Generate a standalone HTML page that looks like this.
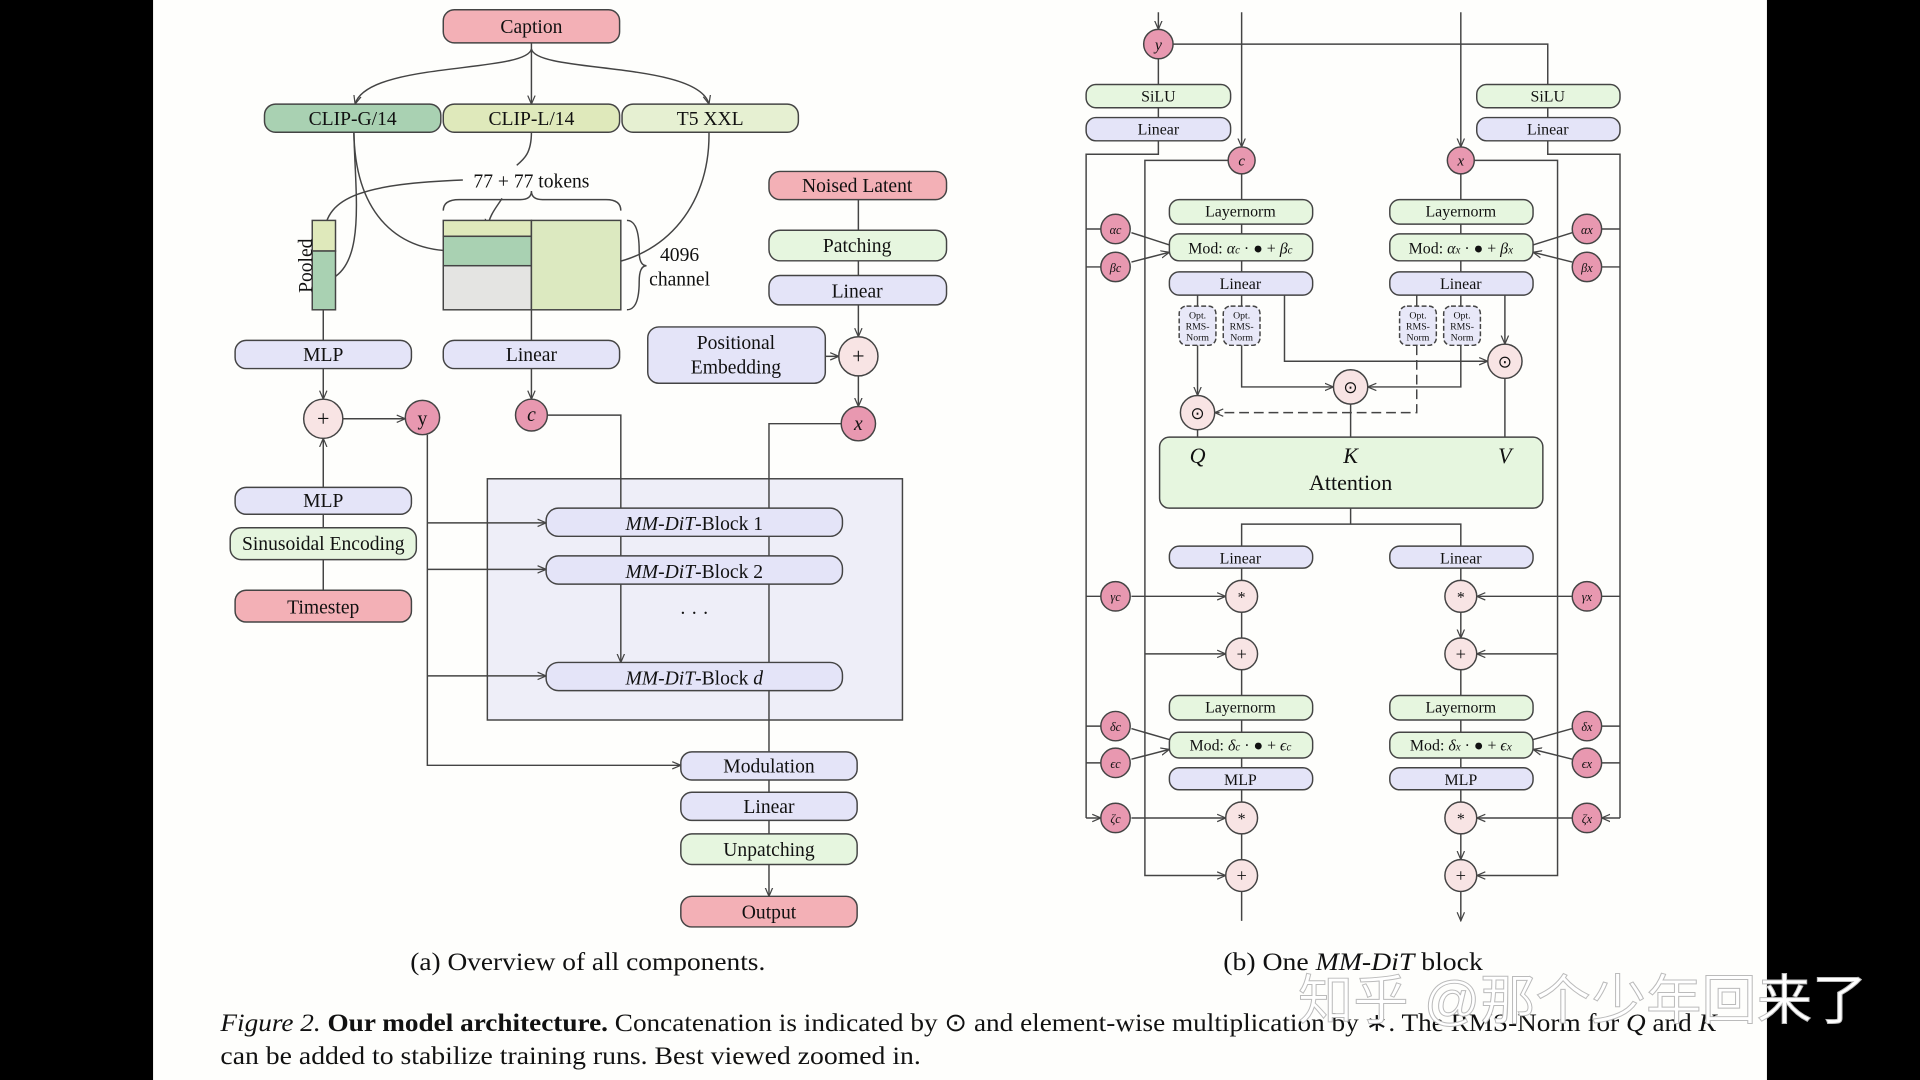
<!DOCTYPE html>
<html><head><meta charset="utf-8"><style>
html,body{margin:0;padding:0;background:#000;}
svg{display:block;}
text{font-family:"Liberation Serif",serif;fill:#111;}
</style></head><body>
<svg width="1920" height="1080" viewBox="0 0 1568 882" preserveAspectRatio="none" xmlns="http://www.w3.org/2000/svg">
<defs>
<marker id="a" markerWidth="8" markerHeight="8" refX="7" refY="4" orient="auto" markerUnits="userSpaceOnUse"><path d="M0,1 L7,4 L0,7" fill="none" stroke="#444" stroke-width="1"/></marker>
</defs>
<rect x="0" y="0" width="1568" height="882" fill="#000"/>
<rect x="125" y="0" width="1318" height="882" fill="#fefefc"/>
<rect x="398" y="391" width="339" height="197" fill="#eeeef8" stroke="#444" stroke-width="1.2"/>
<g stroke="#444" stroke-width="1.2" fill="none">
<path d="M434,35 V85" marker-end="url(#a)"/>
<path d="M434,40 C430,60 300,50 290,85" marker-end="url(#a)"/>
<path d="M434,40 C438,60 570,50 579,85" marker-end="url(#a)"/>
<path d="M289,108 C290,160 300,220 265,230" marker-end="url(#a)"/>
<path d="M289,108 C290,170 320,205 372,205" marker-end="url(#a)"/>
<path d="M579,108 C580,170 540,215 482,217" marker-end="url(#a)"/>
<path d="M434,108 C434,125 428,130 422,135"/>
<path d="M378,147 C300,150 265,160 265,192" marker-end="url(#a)"/>
<path d="M410,162 C405,170 400,175 398,186" marker-end="url(#a)"/>
<path d="M362,172 Q362,163 375,163 L425,163 Q434,163 434,156 Q434,163 443,163 L495,163 Q507,163 507,172"/>
<path d="M512,180 Q522,180 522,205 Q522,217 528,217 Q522,217 522,230 Q522,253 512,253"/>
<path d="M264,253 V278"/>
<path d="M264,301 V326" marker-end="url(#a)"/>
<path d="M264,398 V358" marker-end="url(#a)"/>
<path d="M264,420 V431 M264,457 V482"/>
<path d="M280,342 H331" marker-end="url(#a)"/>
<path d="M434,253 V278 M434,301 V326" marker-end="url(#a)"/>
<path d="M701,163 V188 M701,213 V225"/>
<path d="M701,249 V275" marker-end="url(#a)"/>
<path d="M674,291 H685" marker-end="url(#a)"/>
<path d="M701,307 V332" marker-end="url(#a)"/>
<path d="M447,339 H507 V541" marker-end="url(#a)"/>
<path d="M687,346 H628 V614"/>
<path d="M349,355 V625 H556" marker-end="url(#a)"/>
<path d="M349,427 H446" marker-end="url(#a)"/>
<path d="M349,465 H446" marker-end="url(#a)"/>
<path d="M349,552 H446" marker-end="url(#a)"/>
<path d="M628,637 V647 M628,670 V681"/>
<path d="M628,706 V732" marker-end="url(#a)"/>
</g>
<g stroke="#444" stroke-width="1.2">
<rect x="362" y="8" width="144" height="27" rx="9" fill="#f3b0b6"/>
<rect x="216" y="85" width="144" height="23" rx="9" fill="#a9d1b2"/>
<rect x="362" y="85" width="144" height="23" rx="9" fill="#dfe9bb"/>
<rect x="508" y="85" width="144" height="23" rx="9" fill="#e6f0d2"/>
<rect x="255" y="180" width="19" height="25" fill="#dfe9bb"/>
<rect x="255" y="205" width="19" height="48" fill="#a9d1b2"/>
<rect x="362" y="180" width="72" height="13" fill="#dfe9bb"/>
<rect x="362" y="193" width="72" height="24" fill="#a9d1b2"/>
<rect x="362" y="217" width="72" height="36" fill="#e4e4e2"/>
<rect x="434" y="180" width="73" height="73" fill="#dce9c0"/>
<rect x="628" y="140" width="145" height="23" rx="9" fill="#f3b0b6"/>
<rect x="628" y="188" width="145" height="25" rx="9" fill="#e6f6df"/>
<rect x="628" y="225" width="145" height="24" rx="9" fill="#e4e4f8"/>
<rect x="529" y="267" width="145" height="46" rx="9" fill="#e4e4f8"/>
<rect x="192" y="278" width="144" height="23" rx="9" fill="#e4e4f8"/>
<rect x="362" y="278" width="144" height="23" rx="9" fill="#e4e4f8"/>
<rect x="192" y="398" width="144" height="22" rx="9" fill="#e4e4f8"/>
<rect x="188" y="431" width="152" height="26" rx="9" fill="#e6f6df"/>
<rect x="192" y="482" width="144" height="26" rx="9" fill="#f3b0b6"/>
<rect x="446" y="415" width="242" height="23" rx="10" fill="#e4e4f8"/>
<rect x="446" y="454" width="242" height="23" rx="10" fill="#e4e4f8"/>
<rect x="446" y="541" width="242" height="23" rx="10" fill="#e4e4f8"/>
<rect x="556" y="614" width="144" height="23" rx="9" fill="#e4e4f8"/>
<rect x="556" y="647" width="144" height="23" rx="9" fill="#e4e4f8"/>
<rect x="556" y="681" width="144" height="25" rx="9" fill="#e6f6df"/>
<rect x="556" y="732" width="144" height="25" rx="9" fill="#f3b0b6"/>
<circle cx="701" cy="291" r="16" fill="#f8e4e4"/>
<circle cx="264" cy="342" r="16" fill="#f8e4e4"/>
<circle cx="345" cy="341" r="14" fill="#e898b0"/>
<circle cx="434" cy="339" r="13" fill="#e898b0"/>
<circle cx="701" cy="346" r="14" fill="#e898b0"/>
</g>
<g font-size="16" text-anchor="middle">
<text x="434" y="27">Caption</text>
<text x="288" y="102">CLIP-G/14</text>
<text x="434" y="102">CLIP-L/14</text>
<text x="580" y="102">T5 XXL</text>
<text x="434" y="153">77 + 77 tokens</text>
<text x="555" y="213">4096</text>
<text x="555" y="233">channel</text>
<text x="250" y="217" transform="rotate(-90 250 217)" dy="5">Pooled</text>
<text x="700" y="157">Noised Latent</text>
<text x="700" y="206">Patching</text>
<text x="700" y="243">Linear</text>
<text x="601" y="285">Positional</text>
<text x="601" y="305">Embedding</text>
<text x="701" y="297" font-size="18">+</text>
<text x="264" y="295">MLP</text>
<text x="434" y="295">Linear</text>
<text x="264" y="348" font-size="18">+</text>
<text x="345" y="347">y</text>
<text x="434" y="344" font-style="italic">c</text>
<text x="701" y="351" font-style="italic">x</text>
<text x="264" y="414">MLP</text>
<text x="264" y="449">Sinusoidal Encoding</text>
<text x="264" y="501">Timestep</text>
<text x="567" y="433"><tspan font-style="italic">MM-DiT</tspan>-Block 1</text>
<text x="567" y="472"><tspan font-style="italic">MM-DiT</tspan>-Block 2</text>
<text x="567" y="506">· · ·</text>
<text x="567" y="559"><tspan font-style="italic">MM-DiT</tspan>-Block <tspan font-style="italic">d</tspan></text>
<text x="628" y="631">Modulation</text>
<text x="628" y="664">Linear</text>
<text x="628" y="699">Unpatching</text>
<text x="628" y="750">Output</text>
</g>
<g stroke="#444" stroke-width="1.2" fill="none">
<path d="M946,10 V24" marker-end="url(#a)"/>
<path d="M958,36 H1264 V69"/>
<path d="M946,48 V69 M946,88 V96 M1264,88 V96"/>
<path d="M1014,10 V120" marker-end="url(#a)"/>
<path d="M1193,10 V120" marker-end="url(#a)"/>
<path d="M946,115 V126 H887 V668"/>
<path d="M1264,115 V126 H1323 V668"/>
<path d="M1003,131 H935 V715 H1001" marker-end="url(#a)"/>
<path d="M1204,131 H1272 V715 H1206" marker-end="url(#a)"/>
<path d="M935,534 H1001" marker-end="url(#a)"/>
<path d="M1272,534 H1206" marker-end="url(#a)"/>
<path d="M887,187 H899 M887,218 H899 M887,487 H899 M887,593 H899 M887,623 H899 M887,668 H899" marker-end="url(#a)"/>
<path d="M1323,187 H1308 M1323,218 H1308 M1323,487 H1308 M1323,593 H1308 M1323,623 H1308 M1323,668 H1308" marker-end="url(#a)"/>
<path d="M924,190 L955,200 M924,214 L955,206" marker-end="url(#a)"/>
<path d="M1284,190 L1252,200 M1284,214 L1252,206" marker-end="url(#a)"/>
<path d="M924,595 L955,604 M924,620 L955,612" marker-end="url(#a)"/>
<path d="M1284,595 L1252,604 M1284,620 L1252,612" marker-end="url(#a)"/>
<path d="M924,487 H1001" marker-end="url(#a)"/>
<path d="M1284,487 H1206" marker-end="url(#a)"/>
<path d="M924,668 H1001" marker-end="url(#a)"/>
<path d="M1284,668 H1206" marker-end="url(#a)"/>
<path d="M1014,142 V163 M1014,183 V191 M1193,142 V163 M1193,183 V191"/>
<path d="M1014,213 V222 M1193,213 V222"/>
<path d="M978,241 V250 M1014,241 V250 M1157,241 V250 M1193,241 V250"/>
<path d="M978,282 V323" marker-end="url(#a)"/>
<path d="M1014,282 V316 H1089" marker-end="url(#a)"/>
<path d="M1049,241 V295 H1215" marker-end="url(#a)"/>
<path d="M1229,241 V281" marker-end="url(#a)"/>
<path d="M1193,282 V316 H1117" marker-end="url(#a)"/>
<path d="M1157,282 V337 H992" marker-end="url(#a)" stroke-dasharray="8,4"/>
<path d="M978,351 V357 M1103,330 V357 M1229,309 V357"/>
<path d="M1103,415 V428 H1014 V446 M1103,428 H1193 V446"/>
<path d="M1014,464 V474 M1193,464 V474" />
<path d="M1014,500 V521 M1193,500 V521" marker-end="url(#a)"/>
<path d="M1014,547 V568 M1014,588 V598 M1014,619 V627 M1014,645 V655 M1193,547 V568 M1193,588 V598 M1193,619 V627 M1193,645 V655"/>
<path d="M1014,681 V702 M1193,681 V702" marker-end="url(#a)"/>
<path d="M1014,728 V752 M1193,728 V752" marker-end="url(#a)"/>
</g>
<g stroke="#444" stroke-width="1.2">
<rect x="887" y="69" width="118" height="19" rx="8" fill="#e6f6df"/>
<rect x="887" y="96" width="118" height="19" rx="8" fill="#e4e4f8"/>
<rect x="1206" y="69" width="117" height="19" rx="8" fill="#e6f6df"/>
<rect x="1206" y="96" width="117" height="19" rx="8" fill="#e4e4f8"/>
<circle cx="946" cy="36" r="12" fill="#e898b0"/>
<circle cx="1014" cy="131" r="11" fill="#e898b0"/>
<circle cx="1193" cy="131" r="11" fill="#e898b0"/>
<rect x="955" y="163" width="117" height="20" rx="8" fill="#e6f6df"/>
<rect x="955" y="191" width="117" height="22" rx="8" fill="#e6f6df"/>
<rect x="955" y="222" width="117" height="19" rx="8" fill="#e4e4f8"/>
<rect x="1135" y="163" width="117" height="20" rx="8" fill="#e6f6df"/>
<rect x="1135" y="191" width="117" height="22" rx="8" fill="#e6f6df"/>
<rect x="1135" y="222" width="117" height="19" rx="8" fill="#e4e4f8"/>
<g stroke-dasharray="4,2" fill="#e8e8f8">
<rect x="963" y="250" width="30" height="32" rx="6"/><rect x="999" y="250" width="30" height="32" rx="6"/>
<rect x="1143" y="250" width="30" height="32" rx="6"/><rect x="1179" y="250" width="30" height="32" rx="6"/>
</g>
<circle cx="978" cy="337" r="14" fill="#f8e4e4"/>
<circle cx="1103" cy="316" r="14" fill="#f8e4e4"/>
<circle cx="1229" cy="295" r="14" fill="#f8e4e4"/>
<rect x="947" y="357" width="313" height="58" rx="8" fill="#e6f6df"/>
<rect x="955" y="446" width="117" height="18" rx="8" fill="#e4e4f8"/>
<rect x="1135" y="446" width="117" height="18" rx="8" fill="#e4e4f8"/>
<circle cx="1014" cy="487" r="13" fill="#f8e4e4"/><circle cx="1193" cy="487" r="13" fill="#f8e4e4"/>
<circle cx="1014" cy="534" r="13" fill="#f8e4e4"/><circle cx="1193" cy="534" r="13" fill="#f8e4e4"/>
<rect x="955" y="568" width="117" height="20" rx="8" fill="#e6f6df"/>
<rect x="955" y="598" width="117" height="21" rx="8" fill="#e6f6df"/>
<rect x="955" y="627" width="117" height="18" rx="8" fill="#e4e4f8"/>
<rect x="1135" y="568" width="117" height="20" rx="8" fill="#e6f6df"/>
<rect x="1135" y="598" width="117" height="21" rx="8" fill="#e6f6df"/>
<rect x="1135" y="627" width="117" height="18" rx="8" fill="#e4e4f8"/>
<circle cx="1014" cy="668" r="13" fill="#f8e4e4"/><circle cx="1193" cy="668" r="13" fill="#f8e4e4"/>
<circle cx="1014" cy="715" r="13" fill="#f8e4e4"/><circle cx="1193" cy="715" r="13" fill="#f8e4e4"/>
<g fill="#e898b0">
<circle cx="911" cy="187" r="12"/><circle cx="911" cy="218" r="12"/><circle cx="911" cy="487" r="12"/>
<circle cx="911" cy="593" r="12"/><circle cx="911" cy="623" r="12"/><circle cx="911" cy="668" r="12"/>
<circle cx="1296" cy="187" r="12"/><circle cx="1296" cy="218" r="12"/><circle cx="1296" cy="487" r="12"/>
<circle cx="1296" cy="593" r="12"/><circle cx="1296" cy="623" r="12"/><circle cx="1296" cy="668" r="12"/>
</g>
</g>
<g font-size="13" text-anchor="middle">
<text x="946" y="41" font-style="italic">y</text>
<text x="946" y="83">SiLU</text><text x="946" y="110">Linear</text>
<text x="1264" y="83">SiLU</text><text x="1264" y="110">Linear</text>
<text x="1014" y="135" font-style="italic" font-size="12">c</text>
<text x="1193" y="135" font-style="italic" font-size="12">x</text>
<text x="1013" y="177">Layernorm</text><text x="1193" y="177">Layernorm</text>
<text x="1013" y="207">Mod: <tspan font-style="italic">α</tspan><tspan font-size="9" font-style="italic">c</tspan> · ● + <tspan font-style="italic">β</tspan><tspan font-size="9" font-style="italic">c</tspan></text>
<text x="1193" y="207">Mod: <tspan font-style="italic">α</tspan><tspan font-size="9" font-style="italic">x</tspan> · ● + <tspan font-style="italic">β</tspan><tspan font-size="9" font-style="italic">x</tspan></text>
<text x="1013" y="236">Linear</text><text x="1193" y="236">Linear</text>
<g font-size="8">
<text x="978" y="260">Opt.</text><text x="978" y="269">RMS-</text><text x="978" y="278">Norm</text>
<text x="1014" y="260">Opt.</text><text x="1014" y="269">RMS-</text><text x="1014" y="278">Norm</text>
<text x="1158" y="260">Opt.</text><text x="1158" y="269">RMS-</text><text x="1158" y="278">Norm</text>
<text x="1194" y="260">Opt.</text><text x="1194" y="269">RMS-</text><text x="1194" y="278">Norm</text>
</g>
<text x="978" y="342" font-size="14">⊙</text><text x="1103" y="321" font-size="14">⊙</text><text x="1229" y="300" font-size="14">⊙</text>
<text x="978" y="378" font-size="18" font-style="italic">Q</text>
<text x="1103" y="378" font-size="18" font-style="italic">K</text>
<text x="1229" y="378" font-size="18" font-style="italic">V</text>
<text x="1103" y="400" font-size="18">Attention</text>
<text x="1013" y="460">Linear</text><text x="1193" y="460">Linear</text>
<text x="1014" y="492">*</text><text x="1193" y="492">*</text>
<text x="1014" y="539" font-size="15">+</text><text x="1193" y="539" font-size="15">+</text>
<text x="1013" y="582">Layernorm</text><text x="1193" y="582">Layernorm</text>
<text x="1013" y="613">Mod: <tspan font-style="italic">δ</tspan><tspan font-size="9" font-style="italic">c</tspan> · ● + <tspan font-style="italic">ϵ</tspan><tspan font-size="9" font-style="italic">c</tspan></text>
<text x="1193" y="613">Mod: <tspan font-style="italic">δ</tspan><tspan font-size="9" font-style="italic">x</tspan> · ● + <tspan font-style="italic">ϵ</tspan><tspan font-size="9" font-style="italic">x</tspan></text>
<text x="1013" y="641">MLP</text><text x="1193" y="641">MLP</text>
<text x="1014" y="673">*</text><text x="1193" y="673">*</text>
<text x="1014" y="720" font-size="15">+</text><text x="1193" y="720" font-size="15">+</text>
<g font-size="10" font-style="italic">
<text x="911" y="191">αc</text><text x="911" y="222">βc</text><text x="911" y="491">γc</text>
<text x="911" y="597">δc</text><text x="911" y="627">ϵc</text><text x="911" y="672">ζc</text>
<text x="1296" y="191">αx</text><text x="1296" y="222">βx</text><text x="1296" y="491">γx</text>
<text x="1296" y="597">δx</text><text x="1296" y="627">ϵx</text><text x="1296" y="672">ζx</text>
</g>
</g>
<g font-size="21">
<text x="335" y="792" textLength="290" lengthAdjust="spacingAndGlyphs">(a) Overview of all components.</text>
<text x="999" y="792" textLength="212" lengthAdjust="spacingAndGlyphs">(b) One <tspan font-style="italic">MM-DiT</tspan> block</text>
<text x="180" y="842" textLength="1222" lengthAdjust="spacingAndGlyphs"><tspan font-style="italic">Figure 2.</tspan> <tspan font-weight="bold">Our model architecture.</tspan> Concatenation is indicated by ⊙ and element-wise multiplication by ∗. The RMS-Norm for <tspan font-style="italic">Q</tspan> and <tspan font-style="italic">K</tspan></text>
<text x="180" y="869" textLength="572" lengthAdjust="spacingAndGlyphs">can be added to stabilize training runs. Best viewed zoomed in.</text>
</g>
<text x="1060" y="832" font-size="44" textLength="465" lengthAdjust="spacingAndGlyphs" style="font-family:'Liberation Sans','Noto Sans CJK SC',sans-serif;fill:#fff;stroke:#bbb;stroke-width:0.8;">知乎 @那个少年回来了</text>
</svg>
</body></html>
